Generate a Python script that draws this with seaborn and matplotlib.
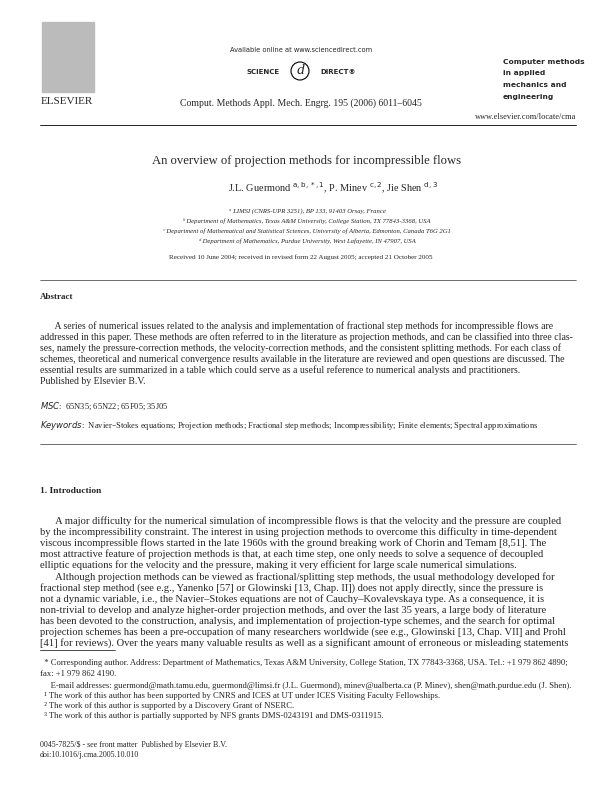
import matplotlib
matplotlib.use("Agg")
import matplotlib.pyplot as plt
import seaborn as sns

sns.set_theme(style="white")
plt.rcParams['font.family'] = ['Liberation Serif', 'DejaVu Serif']

W, H = 595, 794

header_lines = [
    "Computer methods", "in applied", "mechanics and", "engineering",
]
title = "An overview of projection methods for incompressible flows"
affiliations = [
    "\u1d43 LIMSI (CNRS-UPR 3251), BP 133, 91403 Orsay, France",
    "\u1d47 Department of Mathematics, Texas A&M University, College Station, TX 77843-3368, USA",
    "\u1d9c Department of Mathematical and Statistical Sciences, University of Alberta, Edmonton, Canada T6G 2G1",
    "\u1d48 Department of Mathematics, Purdue University, West Lafayette, IN 47907, USA",
]
abstract_lines = [
    "      A series of numerical issues related to the analysis and implementation of fractional step methods for incompressible flows are",
    "addressed in this paper. These methods are often referred to in the literature as projection methods, and can be classified into three clas-",
    "ses, namely the pressure-correction methods, the velocity-correction methods, and the consistent splitting methods. For each class of",
    "schemes, theoretical and numerical convergence results available in the literature are reviewed and open questions are discussed. The",
    "essential results are summarized in a table which could serve as a useful reference to numerical analysts and practitioners.",
    "Published by Elsevier B.V.",
]
intro_lines = [
    "      A major difficulty for the numerical simulation of incompressible flows is that the velocity and the pressure are coupled",
    "by the incompressibility constraint. The interest in using projection methods to overcome this difficulty in time-dependent",
    "viscous incompressible flows started in the late 1960s with the ground breaking work of Chorin and Temam [8,51]. The",
    "most attractive feature of projection methods is that, at each time step, one only needs to solve a sequence of decoupled",
    "elliptic equations for the velocity and the pressure, making it very efficient for large scale numerical simulations.",
    "      Although projection methods can be viewed as fractional/splitting step methods, the usual methodology developed for",
    "fractional step method (see e.g., Yanenko [57] or Glowinski [13, Chap. II]) does not apply directly, since the pressure is",
    "not a dynamic variable, i.e., the Navier\u2013Stokes equations are not of Cauchy\u2013Kovalevskaya type. As a consequence, it is",
    "non-trivial to develop and analyze higher-order projection methods, and over the last 35 years, a large body of literature",
    "has been devoted to the construction, analysis, and implementation of projection-type schemes, and the search for optimal",
    "projection schemes has been a pre-occupation of many researchers worldwide (see e.g., Glowinski [13, Chap. VII] and Prohl",
    "[41] for reviews). Over the years many valuable results as well as a significant amount of erroneous or misleading statements",
]
footnotes = [
    "  * Corresponding author. Address: Department of Mathematics, Texas A&M University, College Station, TX 77843-3368, USA. Tel.: +1 979 862 4890;",
    "fax: +1 979 862 4190.",
    "     E-mail addresses: guermond@math.tamu.edu, guermond@limsi.fr (J.L. Guermond), minev@ualberta.ca (P. Minev), shen@math.purdue.edu (J. Shen).",
    "  \u00b9 The work of this author has been supported by CNRS and ICES at UT under ICES Visiting Faculty Fellowships.",
    "  \u00b2 The work of this author is supported by a Discovery Grant of NSERC.",
    "  \u00b3 The work of this author is partially supported by NFS grants DMS-0243191 and DMS-0311915.",
]
bottom_lines = [
    "0045-7825/$ - see front matter  Published by Elsevier B.V.",
    "doi:10.1016/j.cma.2005.10.010",
]

fig = plt.figure(figsize=(W / 100, H / 100), dpi=100)
ax = fig.add_axes([0, 0, 1, 1])
ax.set_xlim(0, W)
ax.set_ylim(H, 0)
ax.axis("off")

def t(x, y, s, size=7.6, **kw):
    ax.text(x, y, s, fontsize=size, va="center", **kw)

# header
ax.add_patch(plt.Rectangle((42, 22), 52, 70, color="#bbbbbb"))
t(67, 101, "ELSEVIER", 8, ha="center")
t(301, 50, "Available online at www.sciencedirect.com", 4.8, ha="center", family="DejaVu Sans")
t(280, 72, "SCIENCE", 5, ha="right", family="DejaVu Sans", weight="bold")
ax.add_patch(plt.Circle((300, 71), 9, fill=False, color="black", lw=0.8))
t(300, 71, "d", 11, ha="center", style="italic")
t(320, 72, "DIRECT\u00ae", 5, ha="left", family="DejaVu Sans", weight="bold")
t(301, 103, "Comput. Methods Appl. Mech. Engrg. 195 (2006) 6011\u20136045", 7, ha="center")
for i, s in enumerate(header_lines):
    t(503, 62 + i * 11.5, s, 5.4, family="DejaVu Sans", weight="bold")
t(576, 117, "www.elsevier.com/locate/cma", 6, ha="right")
ax.plot([40, 576], [125, 125], color="black", lw=0.6)

t(307, 161, title, 9.1, ha="center")
t(333, 188, "J.L. Guermond $^{\\mathrm{a,b,*,1}}$, P. Minev $^{\\mathrm{c,2}}$, Jie Shen $^{\\mathrm{d,3}}$",
  7.4, ha="center")
for i, s in enumerate(affiliations):
    t(307, 211 + i * 10, s, 4.8, ha="center", style="italic")
t(301, 257, "Received 10 June 2004; received in revised form 22 August 2005; accepted 21 October 2005",
  5.1, ha="center")
ax.plot([40, 576], [280, 280], color="black", lw=0.4)

t(40, 297, "Abstract", 6.5, weight="bold")
for i, s in enumerate(abstract_lines):
    t(40, 326 + i * 11, s, 7.05)
t(40, 406, "$MSC$:  65N35; 65N22; 65F05; 35J05", 6.1)
t(40, 426, "$Keywords$:  Navier\u2013Stokes equations; Projection methods; Fractional step methods; "
  "Incompressibility; Finite elements; Spectral approximations", 6.1)
ax.plot([40, 576], [444, 444], color="black", lw=0.4)

t(40, 491, "1. Introduction", 6.8, weight="bold")
for i, s in enumerate(intro_lines):
    y = 521 + i * 11 + (1 if i >= 5 else 0)
    t(40, y, s, 7.6)

ax.plot([40, 115], [650, 650], color="black", lw=0.5)
fy = [663, 674, 686, 696, 706, 716]
for y, s in zip(fy, footnotes):
    t(40, y, s, 6.25)
for i, s in enumerate(bottom_lines):
    t(40, 745 + i * 10, s, 5.8)

fig.savefig("out.png", dpi=100)
